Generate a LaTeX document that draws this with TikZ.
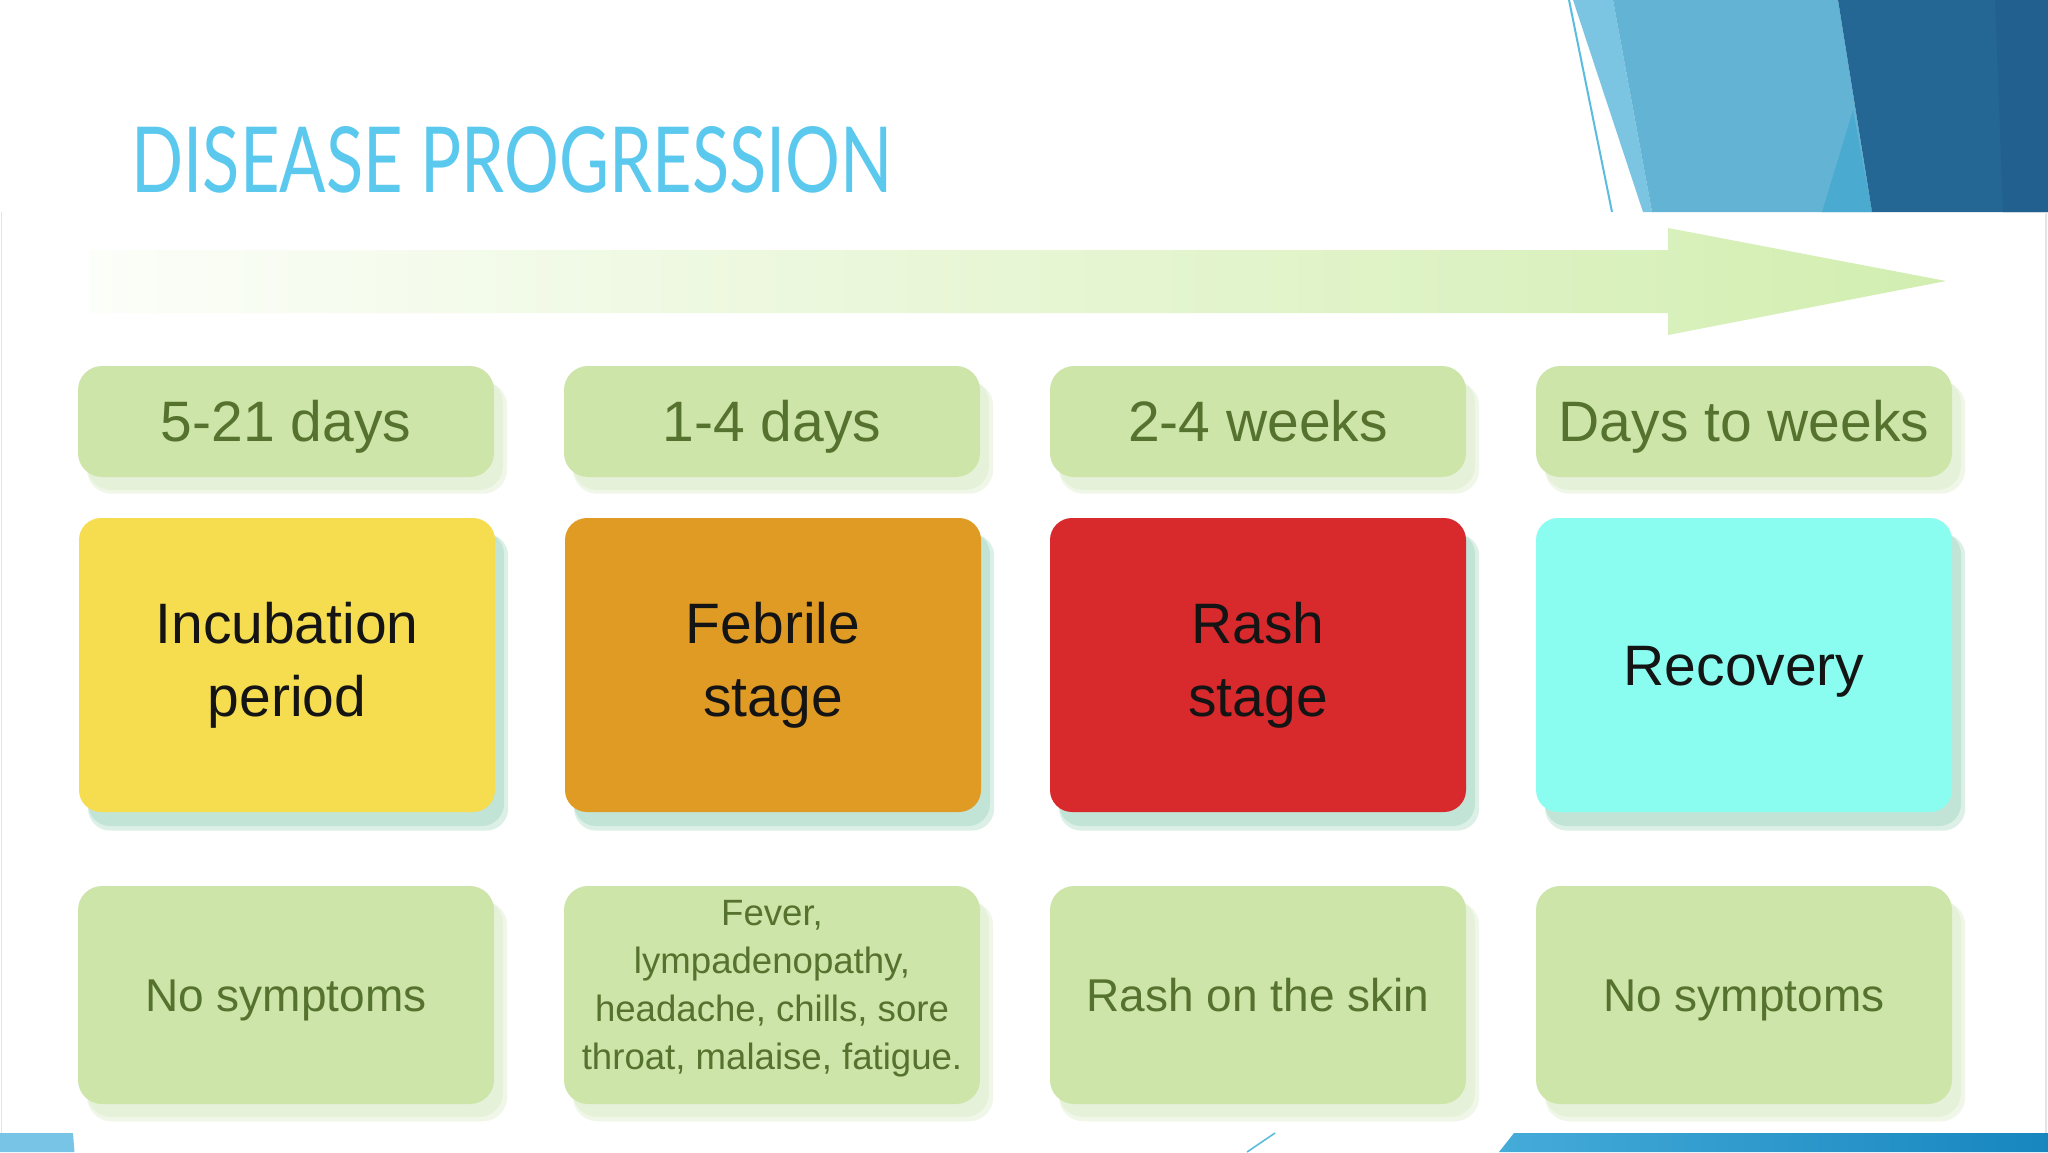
\documentclass[tikz,border=0pt]{standalone}
\usepackage{graphicx}
\usepackage{fontspec}
\setmainfont{Liberation Sans}
\newfontfamily\titlefont{Lato}
\usetikzlibrary{shadows}
\definecolor{titleblue}{HTML}{5BC8EE}
\definecolor{hdrline}{HTML}{5BBCE0}
\definecolor{hdrlight}{HTML}{7BC5E3}
\definecolor{hdrmid}{HTML}{63B4D4}
\definecolor{hdrmid2}{HTML}{4BAAD0}
\definecolor{hdrdark}{HTML}{246694}
\definecolor{hdrdarker}{HTML}{22618F}
\definecolor{botlight}{HTML}{78C4E6}
\definecolor{botL}{HTML}{45ABD9}
\definecolor{botR}{HTML}{1786BF}
\definecolor{arrowL}{HTML}{FCFEF9}
\definecolor{arrowR}{HTML}{D2EEB0}
\definecolor{boxgreen}{HTML}{CDE5A8}
\definecolor{textgreen}{HTML}{56722F}
\definecolor{gshadow}{HTML}{E6F1D9}
\definecolor{cshadow}{HTML}{C2E4D6}
\definecolor{incub}{HTML}{F5DD4F}
\definecolor{febrile}{HTML}{E09B25}
\definecolor{rash}{HTML}{D8292D}
\definecolor{recov}{HTML}{8AFDF0}
\definecolor{frame}{HTML}{E4E4E4}
\begin{document}
\begin{tikzpicture}[x=0.5pt,y=-0.5pt,
  greenshadow/.style={
    general shadow={shadow xshift=5.5pt, shadow yshift=-8pt, fill=gshadow!60, shadow scale=1.01},
    general shadow={shadow xshift=4.5pt, shadow yshift=-6.5pt, fill=gshadow}},
  colshadow/.style={
    general shadow={shadow xshift=5.5pt, shadow yshift=-8.5pt, fill=cshadow!55, shadow scale=1.01},
    general shadow={shadow xshift=4.5pt, shadow yshift=-7pt, fill=cshadow}},
  bigcap/.style={text height=20.4pt, text depth=0pt},
  smallcap/.style={text height=16.5pt, text depth=0pt},
  timebox/.style={rounded corners=12pt, fill=boxgreen, minimum width=208pt,
    minimum height=55.5pt, inner sep=0pt, text=textgreen,
    font=\fontsize{28.5}{34}\selectfont, greenshadow, bigcap},
  stagebox/.style={rounded corners=11pt, minimum width=208pt, minimum height=147pt,
    inner sep=0pt, text=black!92, align=center,
    font=\fontsize{28.5}{36.5}\selectfont, colshadow},
  symbox/.style={rounded corners=12pt, fill=boxgreen, minimum width=208pt,
    minimum height=109pt, inner sep=0pt, text=textgreen, align=center,
    font=\fontsize{23}{28}\selectfont, greenshadow}
]
\useasboundingbox (0,0) rectangle (2048,1152);
\fill[white] (0,0) rectangle (2048,1152);

% header decoration (top right)
\fill[hdrlight] (1573,0) -- (1613,0) -- (1652,212) -- (1643,212) -- cycle;
\fill[hdrmid] (1613,0) -- (1838,0) -- (1872,212) -- (1652,212) -- cycle;
\fill[hdrmid2] (1853,110) -- (1872,212) -- (1822,212) -- cycle;
\fill[hdrdark] (1838,0) -- (2048,0) -- (2048,212) -- (1872,212) -- cycle;
\fill[hdrdarker] (1995,0) -- (2048,0) -- (2048,212) -- (2003,212) -- cycle;
\draw[hdrline, line width=1pt] (1569,0) -- (1612,212);

% frame of the pasted picture
\draw[frame, line width=0.8pt] (1.5,212) -- (1.5,1133);
\draw[frame, line width=0.8pt] (2046,212) -- (2046,1133);

% bottom decoration
\fill[botlight] (0,1133) -- (73,1133) -- (74.5,1152) -- (0,1152) -- cycle;
\shade[left color=botL, right color=botR] (1514,1133) -- (2048,1133) -- (2048,1152) -- (1499,1152) -- cycle;
\draw[hdrline, line width=0.8pt] (1275,1133) -- (1247,1152);

% title
\node[anchor=west, inner sep=0pt, text=titleblue] (title) at (131,160)
  {\resizebox{380.5pt}{33pt}{\titlefont DISEASE PROGRESSION}};

% timeline arrow
\shade[left color=arrowL, right color=arrowR]
  (89,250) -- (1668,250) -- (1668,228) -- (1946,281) -- (1668,335) -- (1668,313) -- (89,313) -- cycle;

% row 1: durations
\node[timebox] (t1) at (286,421.5) {5-21 days};
\node[timebox] (t2) at (772,421.5) {1-4 days};
\node[timebox] (t3) at (1258,421.5) {2-4 weeks};
\node[timebox] (t4) at (1744,421.5) {Days to weeks};

% row 2: stages
\node[stagebox, fill=incub] (s1) at (287,665) {Incubation\\period};
\node[stagebox, fill=febrile] (s2) at (773,665) {Febrile\\stage};
\node[stagebox, fill=rash] (s3) at (1258,665) {Rash\\stage};
\node[stagebox, fill=recov, bigcap] (s4) at (1744,665) {Recovery};

% row 3: symptoms
\node[symbox, smallcap] (y1) at (286,995) {No symptoms};
\node[symbox, font=\fontsize{18.3}{24}\selectfont, text depth=10pt] (y2) at (772,995)
  {Fever,\\lympadenopathy,\\headache, chills, sore\\throat, malaise, fatigue.};
\node[symbox, smallcap] (y3) at (1258,995) {Rash on the skin};
\node[symbox, smallcap] (y4) at (1744,995) {No symptoms};
\end{tikzpicture}
\end{document}
